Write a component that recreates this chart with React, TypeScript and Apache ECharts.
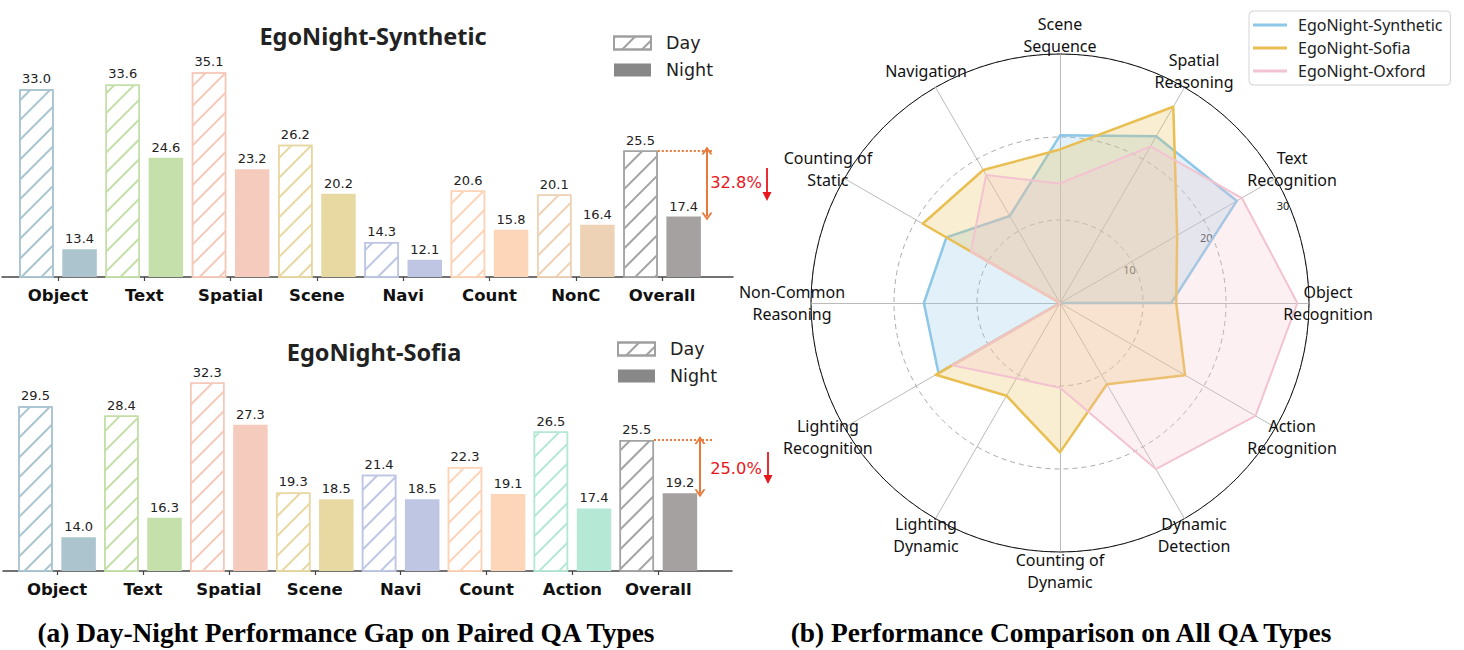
import React, { useEffect, useRef } from 'react';
import * as echarts from 'echarts';

// ---------- data ----------
const synCategories = ['Object', 'Text', 'Spatial', 'Scene', 'Navi', 'Count', 'NonC', 'Overall'];
const synDay = [33.0, 33.6, 35.1, 26.2, 14.3, 20.6, 20.1, 25.5];
const synNight = [13.4, 24.6, 23.2, 20.2, 12.1, 15.8, 16.4, 17.4];
const synGap = '32.8%';

const sofCategories = ['Object', 'Text', 'Spatial', 'Scene', 'Navi', 'Count', 'Action', 'Overall'];
const sofDay = [29.5, 28.4, 32.3, 19.3, 21.4, 22.3, 26.5, 25.5];
const sofNight = [14.0, 16.3, 27.3, 18.5, 18.5, 19.1, 17.4, 19.2];
const sofGap = '25.0%';

const radarIndicators = [
  'Object\nRecognition', 'Text\nRecognition', 'Spatial\nReasoning', 'Scene\nSequence',
  'Navigation', 'Counting of\nStatic', 'Non-Common\nReasoning', 'Lighting\nRecognition',
  'Lighting\nDynamic', 'Counting of\nDynamic', 'Dynamic\nDetection', 'Action\nRecognition',
];
const radarNames = ['EgoNight-Synthetic', 'EgoNight-Sofia', 'EgoNight-Oxford'];
const radarSynthetic = [13.4, 24.6, 23.2, 20.2, 12.1, 15.8, 16.4, 16.9, 0, 0, 0, 0];
const radarSofia = [14.0, 16.3, 27.3, 18.5, 18.5, 19.1, 0, 17.3, 12.9, 18.0, 11.3, 17.4];
const radarOxford = [28.6, 25.3, 21.8, 14.4, 17.8, 12.4, 0, 15.0, 10.5, 10.2, 23.1, 27.2];
const radarMax = 30;
const radarTicks = [10, 20, 30];

// ---------- styles ----------
const synColors = ['#a8c4cf', '#c3dfa7', '#f5c9ba', '#e8d7a0', '#bdc5e4', '#fdd3b7', '#eed0b3', '#a3a3a3'];
const synNightColors = ['#abc4ce', '#c5e0aa', '#f5cbbd', '#e8d9a3', '#bec6e4', '#fdd5b9', '#eed2b6', '#a5a1a0'];
const sofColors = ['#a8c4cf', '#c3dfa7', '#f5c9ba', '#e8d7a0', '#bdc5e4', '#fdd3b7', '#b2e8d4', '#a3a3a3'];
const sofNightColors = ['#abc4ce', '#c5e0aa', '#f5cbbd', '#e8d9a3', '#bec6e4', '#fdd5b9', '#b5e9d6', '#a5a1a0'];
const radarColors = ['#8ec8e8', '#eabf52', '#f3c3d1'];
const radarFills = ['rgba(142,200,232,0.38)', 'rgba(234,191,82,0.38)', 'rgba(243,195,209,0.36)'];

const DEJAVU = "'DejaVu Sans', sans-serif";
const COMIC = "'Comic Sans MS', 'Noto Sans', sans-serif";
const SERIF = "'Liberation Serif', serif";
const ORANGE = '#e8793a';
const RED = '#e8161b';

const hatch = (color: string) => ({
  symbol: 'rect',
  symbolSize: 1,
  color,
  backgroundColor: 'rgba(255,255,255,0)',
  dashArrayX: [1, 0],
  dashArrayY: [2, 12],
  rotation: -Math.PI / 4,
});

const chevron = 'path://M0,10L5,0L10,10L8,10L5,4L2,10Z';

function barPanel(
  idx: number,
  L: { left: number; band: number; base: number; ppu: number; lineLeft: number; lineRight: number; arrowX: number; lineEnd: number },
  cats: string[], day: number[], night: number[], dayColors: string[], nightColors: string[],
) {
  const yMin = 10;
  const yMax = 40;
  const height = (yMax - yMin) * L.ppu;
  const top = L.base - height;
  const grids = [
    { left: L.left, width: L.band * cats.length, top, height },
    { left: L.lineLeft, width: L.lineRight - L.lineLeft, top, height },
  ];
  const gi = idx * 2;
  const xAxes = [
    {
      type: 'category', gridIndex: gi, data: cats,
      axisLine: { show: false },
      axisTick: { show: true, interval: 0, alignWithLabel: true, length: 4, lineStyle: { color: '#444', width: 1.2 } },
      axisLabel: { interval: 0, fontFamily: DEJAVU, fontWeight: 'bold', fontSize: 16.5, color: '#111', margin: 10 },
    },
    {
      type: 'value', gridIndex: gi + 1, min: 0, max: 1,
      axisLine: { show: true, lineStyle: { color: '#444', width: 1.5 } },
      axisTick: { show: false }, axisLabel: { show: false }, splitLine: { show: false },
    },
  ];
  const yAxes = [
    { type: 'value', gridIndex: gi, min: yMin, max: yMax, show: false },
    { type: 'value', gridIndex: gi + 1, min: 0, max: 1, show: false },
  ];
  const last = cats.length - 1;
  const barW = 34.5;
  const dayRight = L.left + (last + 0.5) * L.band - 4.3;
  const series = [
    {
      type: 'bar', name: 'Day', xAxisIndex: gi, yAxisIndex: gi,
      barWidth: barW, barGap: '25%',
      itemStyle: { color: '#fff', borderColor: '#a0a0a0', borderWidth: 1.5, decal: hatch('#a0a0a0') },
      label: { show: true, position: 'top', distance: 4, fontFamily: DEJAVU, fontSize: 13, color: '#222', formatter: (p: any) => Number(p.value).toFixed(1) },
      data: day.map((v, i) => ({
        value: v,
        itemStyle: { color: '#fff', borderColor: dayColors[i], borderWidth: 1.5, decal: hatch(dayColors[i]) },
      })),
      markLine: {
        silent: true, symbol: 'none', label: { show: false },
        lineStyle: { color: ORANGE, type: 'dotted', width: 2 },
        data: [[
          { coord: [last, day[last]], x: dayRight },
          { coord: [last, day[last]], x: L.lineEnd },
        ]],
      },
    },
    {
      type: 'bar', name: 'Night', xAxisIndex: gi, yAxisIndex: gi,
      barWidth: barW, barGap: '25%',
      itemStyle: { color: '#888888' },
      label: { show: true, position: 'top', distance: 4, fontFamily: DEJAVU, fontSize: 13, color: '#222', formatter: (p: any) => Number(p.value).toFixed(1) },
      data: night.map((v, i) => ({ value: v, itemStyle: { color: nightColors[i] } })),
      markLine: {
        silent: true, symbol: [chevron, chevron], symbolSize: [11, 8], label: { show: false },
        lineStyle: { color: ORANGE, type: 'solid', width: 2 },
        data: [[
          { coord: [last, day[last]], x: L.arrowX },
          { coord: [last, night[last]], x: L.arrowX },
        ]],
      },
    },
  ];
  return { grids, xAxes, yAxes, series };
}

function buildOption() {
  const topPanel = barPanel(0,
    { left: 14.85, band: 86.3, base: 277, ppu: 8.16, lineLeft: 2, lineRight: 733, arrowX: 707, lineEnd: 712 },
    synCategories, synDay, synNight, synColors, synNightColors);
  const botPanel = barPanel(1,
    { left: 14.1, band: 85.9, base: 571, ppu: 8.45, lineLeft: 3, lineRight: 732, arrowX: 700, lineEnd: 712 },
    sofCategories, sofDay, sofNight, sofColors, sofNightColors);

  const cx = 1060;
  const cy = 303;
  const R = 249;

  const radarLabelGraphics = radarIndicators.map((name, i) => {
    const a = (i * 360 / radarIndicators.length) * Math.PI / 180;
    return {
      type: 'text', x: cx + (R + 19) * Math.cos(a), y: cy - (R + 19) * Math.sin(a),
      style: {
        text: name, font: `16px ${COMIC}`, fill: '#111', align: 'center', verticalAlign: 'middle',
        textAlign: 'center', textVerticalAlign: 'middle', lineHeight: 22,
      },
      z: 10,
    };
  });

  const textG = (text: string, x: number, y: number, font: string, fill = '#111') => ({
    type: 'text', x, y, z: 10,
    style: { text, font, fill, align: 'center', verticalAlign: 'middle', textAlign: 'center', textVerticalAlign: 'middle' },
  });

  const redArrow = (x: number, y1: number, y2: number) => ([
    { type: 'line', z: 10, shape: { x1: x, y1, x2: x, y2: y2 - 6 }, style: { stroke: RED, lineWidth: 1.8 } },
    { type: 'polygon', z: 10, shape: { points: [[x - 4.5, y2 - 8], [x + 4.5, y2 - 8], [x, y2 + 1]] }, style: { fill: RED } },
  ]);

  const legendCommon = {
    orient: 'vertical', icon: 'rect', itemWidth: 37, itemHeight: 13, itemGap: 9, padding: 0,
    textStyle: { fontFamily: DEJAVU, fontSize: 17.5, color: '#222', padding: [0, 0, 0, 10] },
    data: ['Day', 'Night'], selectedMode: false,
  };

  return {
    animation: false,
    backgroundColor: '#fff',
    textStyle: { fontFamily: DEJAVU },
    grid: [...topPanel.grids, ...botPanel.grids],
    xAxis: [...topPanel.xAxes, ...botPanel.xAxes],
    yAxis: [...topPanel.yAxes, ...botPanel.yAxes],
    legend: [
      { ...legendCommon, left: 613, top: 34 },
      { ...legendCommon, left: 617, top: 340 },
      {
        data: radarNames, orient: 'vertical', left: 1249, top: 11, icon: 'rect',
        itemWidth: 34, itemHeight: 3, itemGap: 7, padding: [6, 8, 6, 4], selectedMode: false,
        borderColor: '#d4d4d4', borderWidth: 1, borderRadius: 4, backgroundColor: '#fff',
        textStyle: { fontFamily: COMIC, fontSize: 16, color: '#222', padding: [0, 0, 0, 6] },
      },
    ],
    radar: {
      center: [cx, cy], radius: R, startAngle: 0, shape: 'circle', splitNumber: radarTicks.length,
      indicator: radarIndicators.map((n) => ({ name: n, min: 0, max: radarMax })),
      axisName: { show: false },
      splitLine: { lineStyle: { color: '#aaaaaa', type: [5, 4], width: 1 } },
      splitArea: { show: false },
      axisLine: { lineStyle: { color: '#a8a8a8', width: 0.8 } },
      axisTick: { show: false },
    },
    polar: { center: [cx, cy], radius: R },
    angleAxis: {
      type: 'value', min: 0, max: 360, startAngle: 22.5,
      axisLine: { show: true, lineStyle: { color: '#111', width: 1 } },
      axisTick: { show: false }, axisLabel: { show: false }, splitLine: { show: false },
    },
    radiusAxis: {
      type: 'value', min: 0, max: radarMax, interval: 10,
      axisLine: { show: false }, axisTick: { show: false }, splitLine: { show: false },
      axisLabel: {
        fontFamily: COMIC, fontSize: 11, color: '#222', margin: 2,
        formatter: (v: number) => (radarTicks.includes(v) ? String(v) : ''),
      },
    },
    series: [
      ...topPanel.series,
      ...botPanel.series,
      {
        type: 'radar', symbol: 'none', z: 3,
        data: [radarSynthetic, radarSofia, radarOxford].map((vals, i) => ({
          name: radarNames[i], value: vals,
          itemStyle: { color: radarColors[i] },
          lineStyle: { color: radarColors[i], width: i === 2 ? 2 : 2.5 },
          areaStyle: { color: radarFills[i] },
        })),
      },
    ],
    graphic: [
      textG('EgoNight-Synthetic', 373, 36, `bold 23.5px ${COMIC}`, '#222'),
      textG('EgoNight-Sofia', 374, 352, `bold 23.5px ${COMIC}`, '#222'),
      textG(synGap, 736, 182, `16.3px ${DEJAVU}`, RED),
      textG(sofGap, 736, 468, `16.3px ${DEJAVU}`, RED),
      ...redArrow(767, 168, 200),
      ...redArrow(768, 452, 483),
      ...radarLabelGraphics,
      textG('(a) Day-Night Performance Gap on Paired QA Types', 346, 633, `bold 27.4px ${SERIF}`, '#000'),
      textG('(b) Performance Comparison on All QA Types', 1061, 633, `bold 27.4px ${SERIF}`, '#000'),
    ],
  };
}

export default function App() {
  const ref = useRef<HTMLDivElement>(null);
  useEffect(() => {
    if (!ref.current) return;
    const chart = echarts.init(ref.current, undefined, { renderer: 'svg' });
    chart.setOption(buildOption() as any);
    return () => chart.dispose();
  }, []);
  return (
    <div
      ref={ref}
      style={{ position: 'fixed', left: 0, top: 0, width: 1464, height: 650, background: '#fff' }}
    />
  );
}
